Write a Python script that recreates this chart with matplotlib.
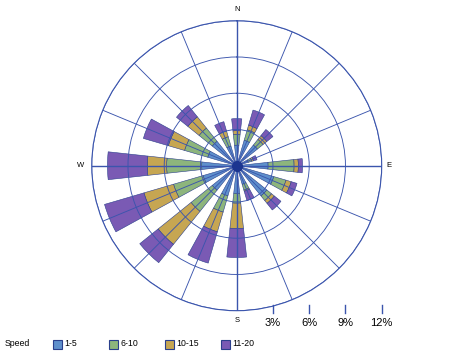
import matplotlib
matplotlib.use("Agg")
import matplotlib.pyplot as plt
import numpy as np
from matplotlib.patches import Rectangle

plt.rcParams['font.family'] = ['Liberation Sans', 'DejaVu Sans']

# wind directions, clockwise from north
directions = ['N', 'NNE', 'NE', 'ENE', 'E', 'ESE', 'SE', 'SSE',
              'S', 'SSW', 'SW', 'WSW', 'W', 'WNW', 'NW', 'NNW']
speed_bins = ['1-5', '6-10', '10-15', '11-20']

# percent of observations per direction and speed bin
pct_1_5 = [1.7, 2.2, 2.2, 1.0, 2.6, 3.2, 3.2, 1.6, 2.3, 2.6, 2.6, 2.9, 2.9, 2.5, 2.6, 1.7]
pct_6_10 = [0.9, 0.9, 0.6, 0.3, 2.15, 1.05, 0.5, 0.5, 0.8, 1.4, 2.25, 2.55, 2.9, 2.0, 1.4, 0.8]
pct_10_15 = [0.3, 0.4, 0.4, 0.15, 0.35, 0.45, 0.3, 0.1, 2.1, 1.7, 3.5, 2.55, 1.6, 1.4, 1.2, 0.5]
pct_11_20 = [1.0, 1.3, 0.65, 0.3, 0.35, 0.5, 0.7, 0.8, 2.4, 2.7, 1.95, 3.4, 3.3, 2.15, 1.2, 0.8]

rings = [3, 6, 9, 12]
ring_labels = ['3%', '6%', '9%', '12%']
compass = ['N', 'E', 'S', 'W']

colors = ['#5f90cc', '#8db57c', '#c6a652', '#7a5ab4']
edge = '#2a3f8c'
grid_col = '#3b55ad'

fig = plt.figure(figsize=(4.74, 3.62), dpi=100)
pos = [0.1935, 0.1417, 0.6118, 0.801]
ax = fig.add_axes(pos, projection='polar')
ax.set_theta_zero_location('N')
ax.set_theta_direction(-1)

theta = np.deg2rad(np.arange(len(directions)) * 360 / len(directions))
width = 2 * np.pi / len(directions) * 0.55

bottom = np.zeros(len(directions))
for vals, c in zip([pct_1_5, pct_6_10, pct_10_15, pct_11_20], colors):
    ax.bar(theta, vals, width=width, bottom=bottom, color=c,
           edgecolor=edge, linewidth=0.4)
    bottom += np.array(vals)

ax.set_ylim(0, 12)
ax.set_yticks(rings)
ax.set_yticklabels([])
ax.set_xticks(theta)
ax.set_xticklabels([])
ax.set_axisbelow(False)
ax.grid(True, color=grid_col, linewidth=0.65)
ax.spines['polar'].set_color(grid_col)
ax.spines['polar'].set_linewidth(0.8)

# overlay for compass labels and the radial scale
ax2 = fig.add_axes(pos)
ax2.set_xlim(-12, 12)
ax2.set_ylim(-12, 12)
ax2.axis('off')
ax2.plot([0, 0], [-12, 12], color=grid_col, linewidth=1.0)
ax2.plot([-12.2, 12], [0, 0], color=grid_col, linewidth=1.0)
ax2.plot([-12.2, -12.2], [-0.45, 0.45], color=grid_col, linewidth=1.0)
ax2.plot([0], [0], 'o', color='#1c3590', markersize=7)

for lab, (x, y) in zip(compass, [(0, 12.9), (12.6, 0), (0, -12.85), (-12.9, 0)]):
    ax2.text(x, y, lab, fontsize=5.5, ha='center', va='center', clip_on=False)

for r, lab in zip(rings, ring_labels):
    ax2.plot([r, r], [-11.55, -12.2], color=grid_col, linewidth=1.0, clip_on=False)
    ax2.text(r, -13.0, lab, fontsize=8, ha='center', va='center', clip_on=False)

# legend row
fig.text(5 / 474, 1 - 344 / 362, 'Speed', fontsize=6.3, ha='left', va='center')
for i, (lab, c) in enumerate(zip(speed_bins, colors)):
    x0 = (53 + 56 * i) / 474
    fig.add_artist(Rectangle((x0, 1 - 348.5 / 362), 9 / 474, 9 / 362,
                             facecolor=c, edgecolor=edge, linewidth=0.8,
                             transform=fig.transFigure))
    fig.text(x0 + 11 / 474, 1 - 344 / 362, lab, fontsize=6.3, ha='left', va='center')

fig.savefig('out.png', dpi=100)
